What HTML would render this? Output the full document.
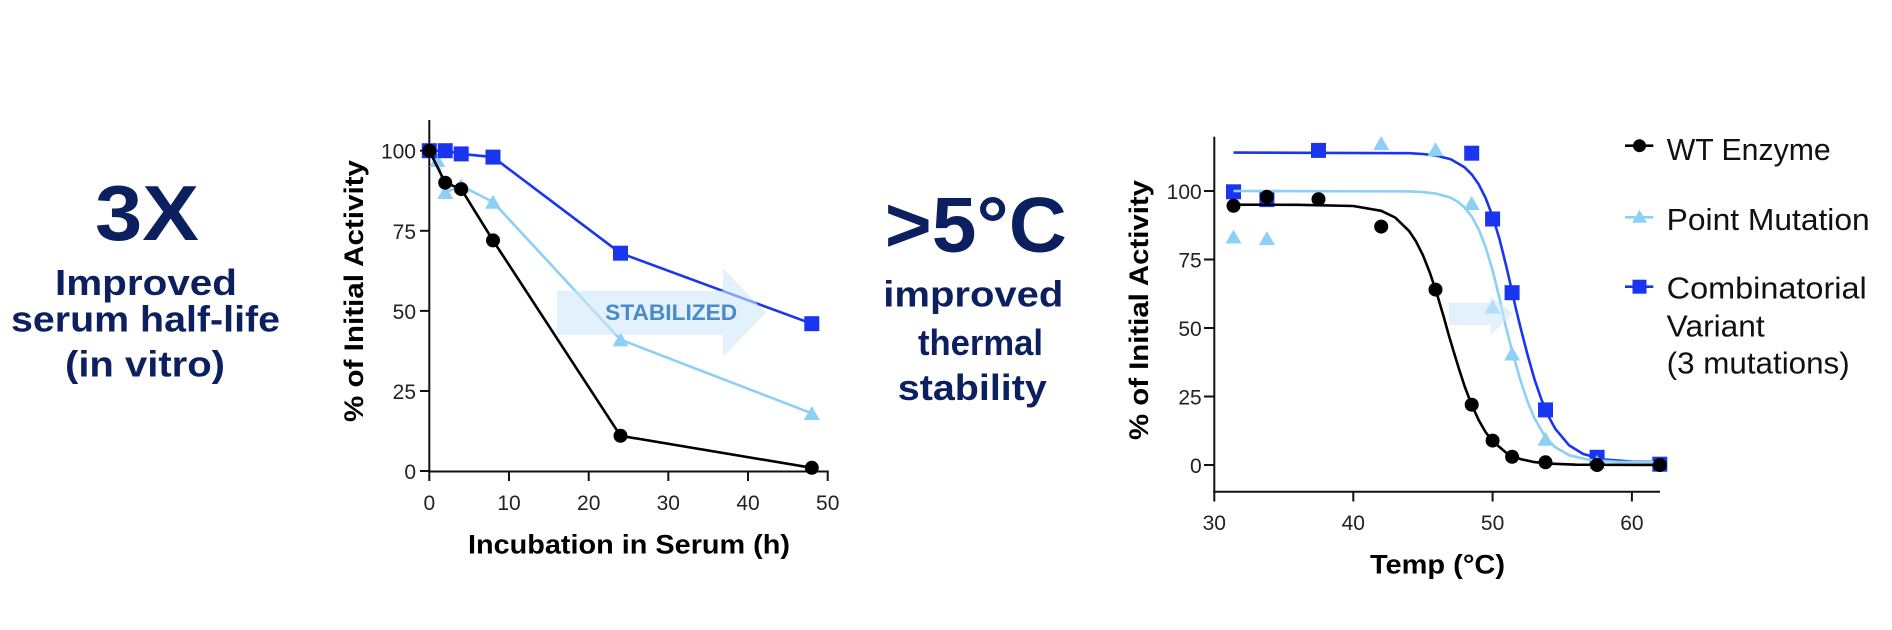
<!DOCTYPE html>
<html><head><meta charset="utf-8"><style>
html,body{margin:0;padding:0;background:#fff;}
svg{display:block;}
text{font-family:"Liberation Sans",sans-serif;}
</style></head><body>
<svg width="1892" height="630" viewBox="0 0 1892 630" xmlns="http://www.w3.org/2000/svg">
<defs>
<polygon id="tri" points="0,-8 -8,6 8,6"/>
<rect id="sq" x="-7.5" y="-7.5" width="15" height="15"/>
</defs>
<rect width="1892" height="630" fill="#fff"/>

<!-- Left headline -->
<g fill="#0c1f5e" font-weight="bold" text-anchor="middle">
<text x="147" y="240" font-size="78" textLength="104" lengthAdjust="spacingAndGlyphs">3X</text>
<text x="146" y="295" font-size="36" textLength="182" lengthAdjust="spacingAndGlyphs">Improved</text>
<text x="145.5" y="331.7" font-size="36" textLength="269" lengthAdjust="spacingAndGlyphs">serum half-life</text>
<text x="145" y="376.7" font-size="36" textLength="160" lengthAdjust="spacingAndGlyphs">(in vitro)</text>
</g>

<!-- Middle headline -->
<g fill="#0c1f5e" font-weight="bold" text-anchor="middle">
<text x="975.8" y="251.7" font-size="78" textLength="182" lengthAdjust="spacingAndGlyphs">&gt;5°C</text>
<text x="973.3" y="306.7" font-size="36" textLength="180" lengthAdjust="spacingAndGlyphs">improved</text>
<text x="980.5" y="355" font-size="36" textLength="125" lengthAdjust="spacingAndGlyphs">thermal</text>
<text x="972.3" y="400" font-size="36" textLength="149" lengthAdjust="spacingAndGlyphs">stability</text>
</g>

<!-- ============ CHART 1 ============ -->
<g stroke="#111" stroke-width="2" fill="none">
<line x1="429.3" y1="120" x2="429.3" y2="472.5"/>
<line x1="428.3" y1="471.5" x2="828.7" y2="471.5"/>
<line x1="420" y1="150.7" x2="429.3" y2="150.7"/>
<line x1="420" y1="230.8" x2="429.3" y2="230.8"/>
<line x1="420" y1="310.9" x2="429.3" y2="310.9"/>
<line x1="420" y1="391" x2="429.3" y2="391"/>
<line x1="420" y1="471" x2="429.3" y2="471"/>
<line x1="429.3" y1="471.5" x2="429.3" y2="481"/>
<line x1="509.0" y1="471.5" x2="509.0" y2="481"/>
<line x1="588.7" y1="471.5" x2="588.7" y2="481"/>
<line x1="668.3" y1="471.5" x2="668.3" y2="481"/>
<line x1="748.0" y1="471.5" x2="748.0" y2="481"/>
<line x1="827.7" y1="471.5" x2="827.7" y2="481"/>
</g>
<g fill="#222" font-size="21" text-anchor="end">
<text x="416" y="158.7">100</text>
<text x="416" y="238.8">75</text>
<text x="416" y="318.9">50</text>
<text x="416" y="399">25</text>
<text x="416" y="479">0</text>
</g>
<g fill="#222" font-size="21" text-anchor="middle">
<text x="429.3" y="510">0</text>
<text x="509.0" y="510">10</text>
<text x="588.7" y="510">20</text>
<text x="668.3" y="510">30</text>
<text x="748.0" y="510">40</text>
<text x="827.7" y="510">50</text>
</g>
<text transform="translate(363,291) rotate(-90)" text-anchor="middle" font-weight="bold" font-size="27" fill="#000" textLength="262" lengthAdjust="spacingAndGlyphs">% of Initial Activity</text>
<text x="629" y="553.3" text-anchor="middle" font-weight="bold" font-size="27" fill="#000" textLength="322" lengthAdjust="spacingAndGlyphs">Incubation in Serum (h)</text>

<!-- Point mutation (light blue) -->
<polyline fill="none" stroke="#8dd0f5" stroke-width="2.6" stroke-linejoin="round" points="429.3,150.7 437.3,160.3 445.2,192.3 461.2,185.9 493.0,202.0 620.5,339.7 811.8,413.3"/>
<g fill="#8dd0f5">
<use href="#tri" x="437.3" y="161"/>
<use href="#tri" x="445.2" y="193"/>
<use href="#tri" x="461.2" y="186.6"/>
<use href="#tri" x="493.0" y="202.7"/>
<use href="#tri" x="620.5" y="340.4"/>
<use href="#tri" x="811.8" y="414"/>
</g>
<!-- Combinatorial (blue) -->
<polyline fill="none" stroke="#1a35f0" stroke-width="2.6" stroke-linejoin="round" points="429.3,150.7 445.2,150.7 461.2,153.9 493.0,157.1 620.5,253.2 811.8,323.7"/>
<g fill="#1a35f0">
<use href="#sq" x="429.3" y="150.7"/>
<use href="#sq" x="445.2" y="150.7"/>
<use href="#sq" x="461.2" y="153.9"/>
<use href="#sq" x="493.0" y="157.1"/>
<use href="#sq" x="620.5" y="253.2"/>
<use href="#sq" x="811.8" y="323.7"/>
</g>
<!-- WT (black) -->
<polyline fill="none" stroke="#000" stroke-width="2.6" stroke-linejoin="round" points="429.3,150.7 445.2,182.7 461.2,189.1 493.0,240.4 620.5,435.8 811.8,467.8"/>
<g fill="#000">
<circle cx="429.3" cy="150.7" r="7"/>
<circle cx="445.2" cy="182.7" r="7"/>
<circle cx="461.2" cy="189.1" r="7"/>
<circle cx="493.0" cy="240.4" r="7"/>
<circle cx="620.5" cy="435.8" r="7"/>
<circle cx="811.8" cy="467.8" r="7"/>
</g>
<!-- STABILIZED arrow -->
<polygon points="557,290.7 723,290.7 723,268.3 766,312.7 723,356.7 723,335 557,335" fill="#cfe8fa" opacity="0.6"/>
<text x="671.2" y="320" text-anchor="middle" font-weight="bold" font-size="22" fill="#4a8ac8" textLength="132" lengthAdjust="spacingAndGlyphs">STABILIZED</text>

<!-- ============ CHART 2 ============ -->
<g stroke="#111" stroke-width="2" fill="none">
<line x1="1214.3" y1="136.7" x2="1214.3" y2="492.7"/>
<line x1="1213.3" y1="491.7" x2="1660" y2="491.7"/>
<line x1="1204" y1="191" x2="1214.3" y2="191"/>
<line x1="1204" y1="259.5" x2="1214.3" y2="259.5"/>
<line x1="1204" y1="328" x2="1214.3" y2="328"/>
<line x1="1204" y1="396.5" x2="1214.3" y2="396.5"/>
<line x1="1204" y1="465" x2="1214.3" y2="465"/>
<line x1="1214.3" y1="491.7" x2="1214.3" y2="501.5"/>
<line x1="1353.3" y1="491.7" x2="1353.3" y2="501.5"/>
<line x1="1492.6" y1="491.7" x2="1492.6" y2="501.5"/>
<line x1="1631.9" y1="491.7" x2="1631.9" y2="501.5"/>
</g>
<g fill="#222" font-size="21" text-anchor="end">
<text x="1201.7" y="199">100</text>
<text x="1201.7" y="267.5">75</text>
<text x="1201.7" y="336">50</text>
<text x="1201.7" y="404.5">25</text>
<text x="1201.7" y="473">0</text>
</g>
<g fill="#222" font-size="21" text-anchor="middle">
<text x="1214.3" y="530">30</text>
<text x="1353.3" y="530">40</text>
<text x="1492.6" y="530">50</text>
<text x="1631.9" y="530">60</text>
</g>
<text transform="translate(1148,310) rotate(-90)" text-anchor="middle" font-weight="bold" font-size="27" fill="#000" textLength="260" lengthAdjust="spacingAndGlyphs">% of Initial Activity</text>
<text x="1437.5" y="573.3" text-anchor="middle" font-weight="bold" font-size="27" fill="#000" textLength="135" lengthAdjust="spacingAndGlyphs">Temp (°C)</text>

<!-- Blue curve + squares -->
<polyline fill="none" stroke="#1a35f0" stroke-width="2.6" stroke-linejoin="round" points="1233.5,152.6 1409.0,153.2 1423.0,154.0 1436.9,155.7 1450.8,159.3 1464.7,167.4 1471.7,174.4 1478.7,184.3 1485.6,198.0 1492.6,216.3 1499.6,239.4 1506.5,267.2 1510.7,285.4 1515.6,307.4 1520.5,327.5 1527.5,354.6 1534.4,379.0 1541.4,399.5 1548.3,416.0 1555.3,428.8 1569.2,445.4 1583.2,454.0 1604.1,459.5 1631.9,461.6 1659.8,462.1"/>
<g fill="#1a35f0">
<use href="#sq" x="1233.5" y="191.8"/>
<use href="#sq" x="1266.9" y="199.6"/>
<use href="#sq" x="1318.5" y="150.4"/>
<use href="#sq" x="1471.7" y="153.2"/>
<use href="#sq" x="1492.6" y="219.0"/>
<use href="#sq" x="1512.1" y="292.7"/>
<use href="#sq" x="1545.5" y="409.9"/>
<use href="#sq" x="1597.1" y="457.3"/>
<use href="#sq" x="1659.8" y="464.2"/>
</g>
<!-- Light blue curve + triangles -->
<polyline fill="none" stroke="#8dd0f5" stroke-width="2.6" stroke-linejoin="round" points="1233.5,191 1409.0,191.4 1423.0,192.1 1436.9,193.7 1450.8,197.8 1457.8,201.7 1464.7,207.6 1471.7,216.5 1478.7,229.3 1485.6,247.1 1492.6,270.5 1499.6,298.7 1505.8,326.6 1512.1,350.8 1520.5,380.5 1527.5,401.4 1534.4,418.2 1545.5,437.1 1555.3,447.3 1569.2,455.3 1590.1,460.1 1617.9,461.8 1659.8,462.2"/>
<g fill="#8dd0f5">
<use href="#tri" x="1233.5" y="237.5"/>
<use href="#tri" x="1266.9" y="239.1"/>
<use href="#tri" x="1381.2" y="144"/>
<use href="#tri" x="1435.5" y="150.1"/>
<use href="#tri" x="1471.7" y="204"/>
<use href="#tri" x="1492.6" y="307.6"/>
<use href="#tri" x="1512.1" y="354.5"/>
<use href="#tri" x="1545.5" y="439.7"/>
<use href="#tri" x="1597.1" y="463"/>
</g>
<!-- Black curve + circles -->
<polyline fill="none" stroke="#000" stroke-width="2.6" stroke-linejoin="round" points="1233.5,204.7 1297.6,204.8 1353.3,206.0 1381.2,210.8 1395.1,217.5 1409.0,230.9 1416.0,241.4 1423.0,255.3 1429.9,272.8 1436.9,293.8 1443.9,317.5 1448.7,334.9 1453.6,351.4 1459.2,369.6 1464.7,386.5 1471.7,404.9 1478.7,420.1 1485.6,432.1 1492.6,441.3 1506.5,453.0 1520.5,459.1 1534.4,462.1 1548.3,463.6 1576.2,464.7 1659.8,465"/>
<g fill="#000">
<circle cx="1233.5" cy="205.8" r="7"/>
<circle cx="1266.9" cy="196.8" r="7"/>
<circle cx="1318.5" cy="199.2" r="7"/>
<circle cx="1381.2" cy="226.6" r="7"/>
<circle cx="1435.5" cy="289.6" r="7"/>
<circle cx="1471.7" cy="404.7" r="7"/>
<circle cx="1492.6" cy="440.6" r="7"/>
<circle cx="1512.1" cy="456.8" r="7"/>
<circle cx="1545.5" cy="462.3" r="7"/>
<circle cx="1597.1" cy="465" r="7"/>
<circle cx="1659.8" cy="465" r="7"/>
</g>
<!-- small arrow -->
<polygon points="1449,302.5 1490.5,302.5 1490.5,296.7 1513.5,313.5 1490.5,335 1490.5,325 1449,325" fill="#cfe8fa" opacity="0.6"/>

<!-- Legend -->
<g>
<line x1="1625" y1="145.7" x2="1653.3" y2="145.7" stroke="#000" stroke-width="2.6"/>
<circle cx="1639.5" cy="145.7" r="6.5" fill="#000"/>
<line x1="1625" y1="217.3" x2="1653.3" y2="217.3" stroke="#8dd0f5" stroke-width="2.6"/>
<polygon points="1639.5,209.8 1632,222.8 1647,222.8" fill="#8dd0f5"/>
<line x1="1625" y1="286.7" x2="1653.3" y2="286.7" stroke="#1a35f0" stroke-width="2.6"/>
<rect x="1632.5" y="279.7" width="14" height="14" fill="#1a35f0"/>
</g>
<g fill="#111" font-size="31">
<text x="1666.7" y="160" textLength="164" lengthAdjust="spacingAndGlyphs">WT Enzyme</text>
<text x="1666.7" y="230" textLength="203" lengthAdjust="spacingAndGlyphs">Point Mutation</text>
<text x="1666.7" y="298.3" textLength="200" lengthAdjust="spacingAndGlyphs">Combinatorial</text>
<text x="1666.7" y="336.7" textLength="98" lengthAdjust="spacingAndGlyphs">Variant</text>
<text x="1666.7" y="373.5" textLength="183" lengthAdjust="spacingAndGlyphs">(3 mutations)</text>
</g>
</svg>
</body></html>
